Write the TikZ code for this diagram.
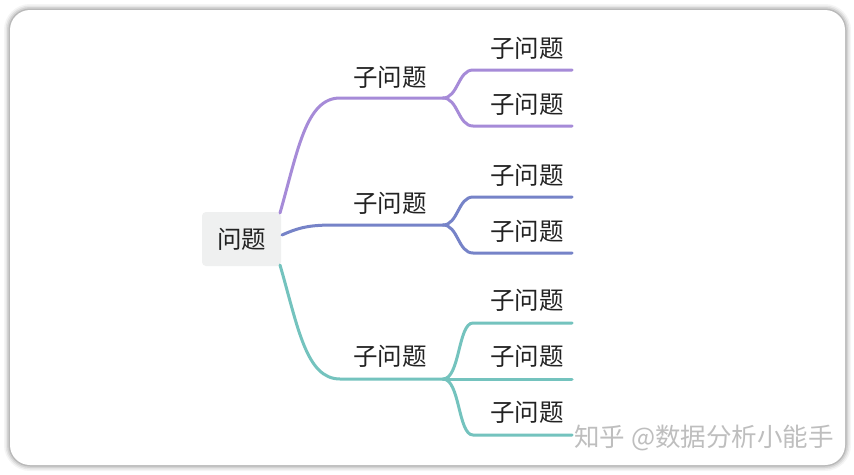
\documentclass[tikz,border=0pt]{standalone}
\usepackage{fontspec}
\setmainfont{Noto Sans CJK SC}
\newfontfamily\cjk{Noto Sans CJK SC}
\definecolor{cpurple}{HTML}{A68BD8}
\definecolor{cblue}{HTML}{7683C8}
\definecolor{cteal}{HTML}{74C3BE}
\definecolor{rootfill}{HTML}{EFF0F0}
\definecolor{txt}{HTML}{222222}
\definecolor{wm}{HTML}{BEBEBE}
\begin{document}
\begin{tikzpicture}[x=1pt,y=-1pt,
  lbl/.style={font=\cjk\fontsize{24.5}{24.5}\selectfont, text=txt, inner sep=0pt, anchor=center},
  rootbox/.style={fill=rootfill, rounded corners=4pt, minimum width=79pt, minimum height=54pt, inner sep=0pt, font=\cjk\fontsize{24.5}{24.5}\selectfont, text=txt},
  br/.style={line width=3pt, line cap=round}]
\useasboundingbox (0,0) rectangle (854,474);
\fill[white] (0,0) rectangle (854,474);
% card shadow
\foreach \w/\o in {12/0.04, 9/0.06, 6/0.08, 3/0.12}{
  \draw[black, opacity=\o, line width=\w pt, rounded corners=20pt] (10,10) rectangle (845,465);
}
\fill[white, rounded corners=20pt] (10,10) rectangle (845,465);

% root
\node[rootbox] (root) at (241.5,239) {问题};

% coordinates
\coordinate (p0) at (280,213);
\coordinate (p1) at (340,98);
\coordinate (pf) at (443,98);
\coordinate (pa) at (473,70);
\coordinate (pae) at (572,70);
\coordinate (pb) at (473,126);
\coordinate (pbe) at (572,126);

\coordinate (b0) at (282,235);
\coordinate (b1) at (335,225);
\coordinate (bf) at (443,225);
\coordinate (ba) at (473,197);
\coordinate (bae) at (572,197);
\coordinate (bb) at (473,253);
\coordinate (bbe) at (572,253);

\coordinate (t0) at (280,265);
\coordinate (t1) at (340,379);
\coordinate (tf) at (443,379);
\coordinate (ta) at (473,323);
\coordinate (tae) at (572,323);
\coordinate (tme) at (572,379);
\coordinate (tb) at (473,435);
\coordinate (tbe) at (572,435);

% purple
\draw[br, cpurple] (p0) .. controls (298,150) and (306,98) .. (p1) -- (pf);
\draw[br, cpurple] (pf) .. controls (458,98) and (458,70) .. (pa) -- (pae);
\draw[br, cpurple] (pf) .. controls (458,98) and (458,126) .. (pb) -- (pbe);
% blue
\draw[br, cblue] (b0) .. controls (300,227) and (310,225) .. (b1) -- (bf);
\draw[br, cblue] (bf) .. controls (458,225) and (458,197) .. (ba) -- (bae);
\draw[br, cblue] (bf) .. controls (458,225) and (458,253) .. (bb) -- (bbe);
% teal
\draw[br, cteal] (t0) .. controls (298,327) and (306,379) .. (t1) -- (tf);
\draw[br, cteal] (tf) .. controls (460,379) and (458,323) .. (ta) -- (tae);
\draw[br, cteal] (tf) -- (tme);
\draw[br, cteal] (tf) .. controls (460,379) and (458,435) .. (tb) -- (tbe);

% labels
\node[lbl] (lp) at (390,77) {子问题};
\node[lbl] (lb) at (390,203) {子问题};
\node[lbl] (lt) at (390,356) {子问题};
\node[lbl] (l1) at (527,48) {子问题};
\node[lbl] (l2) at (527,104) {子问题};
\node[lbl] (l3) at (527,175) {子问题};
\node[lbl] (l4) at (527,231) {子问题};
\node[lbl] (l5) at (527,300) {子问题};
\node[lbl] (l6) at (527,356) {子问题};
\node[lbl] (l7) at (527,412) {子问题};

% watermark
\node[font=\cjk\fontsize{25.5}{25.5}\selectfont, text=wm, inner sep=0pt, anchor=center] (wmk) at (704,438) {知乎 @数据分析小能手};
\end{tikzpicture}
\end{document}
